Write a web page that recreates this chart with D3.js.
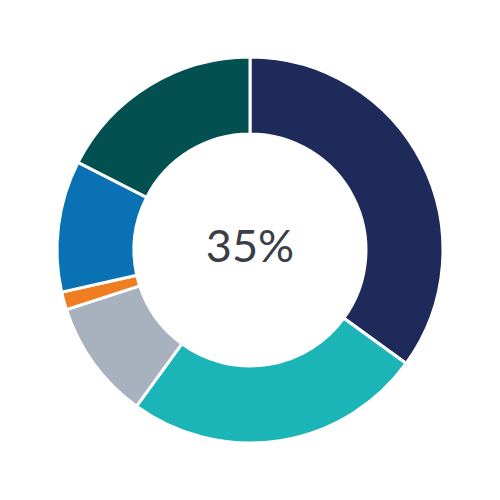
<!DOCTYPE html>
<html><head><meta charset="utf-8">
<script src="https://cdn.jsdelivr.net/npm/d3@7"></script>
<style>body{margin:0;background:#fff}</style>
</head><body>
<svg id="c" width="500" height="500"></svg>
<script>
const categories = ["A","B","C","D","E","F"];
const values = [35, 25, 10, 1.5, 11, 17.5];
const colors = ["#1e2a5a","#1cb5b7","#a8b2bf","#ef7d22","#0a72b4","#02504f"];
const centerLabel = "35%";

const svg = d3.select("#c");
const g = svg.append("g").attr("transform","translate(250,250)");
const pie = d3.pie().sort(null).value(d=>d.v);
const arc = d3.arc().innerRadius(116).outerRadius(193);
const data = categories.map((c,i)=>({c, v: values[i], col: colors[i]}));
g.selectAll("path").data(pie(data)).join("path")
  .attr("d", arc).attr("fill", d=>d.data.col)
  .attr("stroke","#fff").attr("stroke-width",3);
g.append("text").attr("text-anchor","middle").attr("y",12)
  .attr("font-family","Lato, sans-serif").attr("font-size",45)
  .attr("fill","#3b3e47").text(centerLabel);
</script>
</body></html>
